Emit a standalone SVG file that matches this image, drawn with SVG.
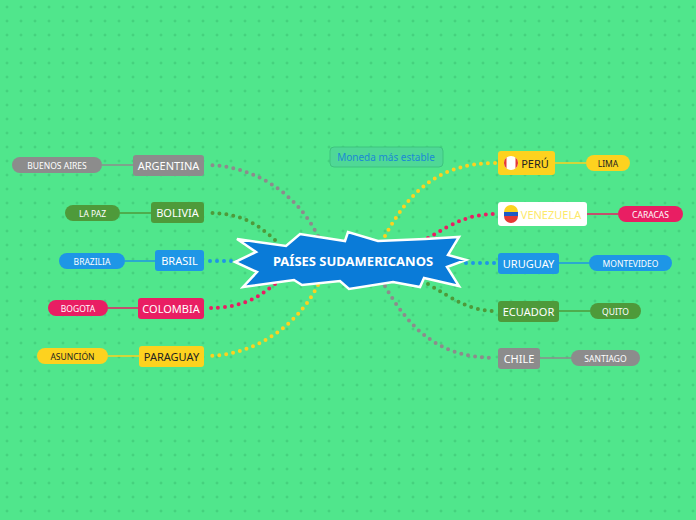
<svg xmlns="http://www.w3.org/2000/svg" width="696" height="520" viewBox="0 0 696 520">
<defs>
<pattern id="g" width="14" height="14" patternUnits="userSpaceOnUse"><path d="M7 5.5v3M5.5 7h3" stroke="#3fc775" stroke-width="0.8"/></pattern>
<style>
.t{font-family:"Noto Sans","DejaVu Sans",sans-serif;font-size:11px;text-anchor:middle;dominant-baseline:central}
.s{font-family:"Noto Sans","DejaVu Sans",sans-serif;font-size:8.5px;text-anchor:middle;dominant-baseline:central;fill:#fff}
.c{fill:none;stroke-width:4;stroke-linecap:round;stroke-dasharray:0 7}
.l{stroke-width:1.5}
</style>
</defs>
<rect width="696" height="520" fill="#50e68c"/>
<rect width="696" height="520" fill="url(#g)"/>
<g id="connectors">
<path class="c" stroke="#8c8c8c" d="M318 236C295 190 250 165 206 165"/>
<path class="c" stroke="#4e9a3a" d="M275 240C255 222 240 213 206 213"/>
<path class="c" stroke="#1e96e6" d="M238 261H206"/>
<path class="c" stroke="#e91e63" d="M275 284C255 300 240 308 206 308"/>
<path class="c" stroke="#fdd21f" d="M318 285C295 330 250 356 206 356"/>
<path class="c" stroke="#fdd21f" d="M385 236C410 190 440 163 496 163"/>
<path class="c" stroke="#e91e63" d="M428 238C455 222 470 214 496 214"/>
<path class="c" stroke="#1e96e6" d="M466 263H496"/>
<path class="c" stroke="#4e9a3a" d="M428 284C455 300 470 311 496 311"/>
<path class="c" stroke="#8c8c8c" d="M385 286C410 330 440 358 496 358"/>
<path class="l" stroke="#8c8c8c" d="M102 165H133"/>
<path class="l" stroke="#4e9a3a" d="M120 213H151"/>
<path class="l" stroke="#1e96e6" d="M125 261H155"/>
<path class="l" stroke="#e91e63" d="M108 308H138"/>
<path class="l" stroke="#fdd21f" d="M108 356H139"/>
<path class="l" stroke="#fdd21f" d="M555 163H586"/>
<path class="l" stroke="#e91e63" d="M587 214H618"/>
<path class="l" stroke="#1e96e6" d="M559 263H589"/>
<path class="l" stroke="#4e9a3a" d="M559 311H590"/>
<path class="l" stroke="#8c8c8c" d="M540 358H571"/>
</g>
<g id="center">
<path d="M237 239L286 246L300 234L345 241L348 232L378 241L425 239L459 237L448 255L466 260L447 267L459 286L424 278L420 287L393 282L349 289L340 281L302 285L294 280L243 287L257 272L235 262L256 252Z" fill="#0a7bd8" stroke="#fff" stroke-width="2.5"/>
<text x="353" y="261" class="t" style="font-size:13px;font-weight:bold;fill:#fff">PAÍSES SUDAMERICANOS</text>
</g>
<g id="moneda"><rect x="330" y="147" width="113" height="20" rx="4" fill="#4fd896" stroke="#3ec47f"/><text x="386" y="157" class="t" style="fill:#1a8ad4;font-size:10px">Moneda más estable</text></g>
<g id="argentina"><rect x="133" y="155" width="71" height="21" rx="3" fill="#8c8c8c"/><text x="168.5" y="165.5" class="t" fill="#fff">ARGENTINA</text><rect x="12" y="157" width="90" height="16" rx="8" fill="#8c8c8c"/><text x="57" y="165" class="s">BUENOS AIRES</text></g>
<g id="bolivia"><rect x="151" y="202" width="53" height="21" rx="3" fill="#4e9a3a"/><text x="177.5" y="212.5" class="t" fill="#fff">BOLIVIA</text><rect x="65" y="205" width="55" height="16" rx="8" fill="#4e9a3a"/><text x="92.5" y="213" class="s">LA PAZ</text></g>
<g id="brasil"><rect x="155" y="250" width="49" height="21" rx="3" fill="#1e96e6"/><text x="179.5" y="260.5" class="t" fill="#fff">BRASIL</text><rect x="59" y="253" width="66" height="16" rx="8" fill="#1e96e6"/><text x="92" y="261" class="s">BRAZILIA</text></g>
<g id="colombia"><rect x="138" y="298" width="66" height="21" rx="3" fill="#e91e63"/><text x="171" y="308.5" class="t" fill="#fff">COLOMBIA</text><rect x="48" y="300" width="60" height="16" rx="8" fill="#e91e63"/><text x="78" y="308" class="s">BOGOTA</text></g>
<g id="paraguay"><rect x="139" y="346" width="65" height="21" rx="3" fill="#fdd21f"/><text x="171.5" y="356.5" class="t" fill="#222">PARAGUAY</text><rect x="37" y="348" width="71" height="16" rx="8" fill="#fdd21f"/><text x="72.5" y="356" class="s" style="fill:#222">ASUNCIÓN</text></g>
<g id="peru"><rect x="498" y="151" width="57" height="24" rx="3" fill="#fdd21f"/><circle cx="511" cy="163" r="7" fill="#fff"/><path d="M506.5 157.6A7 7 0 0 0 506.5 168.4ZM515.5 157.6A7 7 0 0 1 515.5 168.4Z" fill="#e53935"/><text x="535" y="163" class="t" fill="#222">PERÚ</text><rect x="586" y="155" width="44" height="16" rx="8" fill="#fdd21f"/><text x="608" y="163" class="s" style="fill:#222">LIMA</text></g>
<g id="venezuela"><rect x="498" y="202" width="89" height="24" rx="3" fill="#fff"/><path d="M504 212A7 7 0 0 1 518 212Z" fill="#fdd21f"/><rect x="504" y="212" width="14" height="4" fill="#1e5bc6"/><path d="M504 216H518A7 7 0 0 1 504 216Z" fill="#e53935"/><text x="551" y="214" class="t" fill="#fde96a">VENEZUELA</text><rect x="618" y="206" width="65" height="16" rx="8" fill="#e91e63"/><text x="650.5" y="214" class="s">CARACAS</text></g>
<g id="uruguay"><rect x="498" y="253" width="61" height="21" rx="3" fill="#1e96e6"/><text x="528.5" y="263.5" class="t" fill="#fff">URUGUAY</text><rect x="589" y="255" width="83" height="16" rx="8" fill="#1e96e6"/><text x="630.5" y="263" class="s">MONTEVIDEO</text></g>
<g id="ecuador"><rect x="498" y="301" width="61" height="21" rx="3" fill="#4e9a3a"/><text x="528.5" y="311.5" class="t" fill="#fff">ECUADOR</text><rect x="590" y="303" width="51" height="16" rx="8" fill="#4e9a3a"/><text x="615.5" y="311" class="s">QUITO</text></g>
<g id="chile"><rect x="498" y="348" width="42" height="21" rx="3" fill="#8c8c8c"/><text x="519" y="358.5" class="t" fill="#fff">CHILE</text><rect x="571" y="350" width="69" height="16" rx="8" fill="#8c8c8c"/><text x="605.5" y="358" class="s">SANTIAGO</text></g>
</svg>
